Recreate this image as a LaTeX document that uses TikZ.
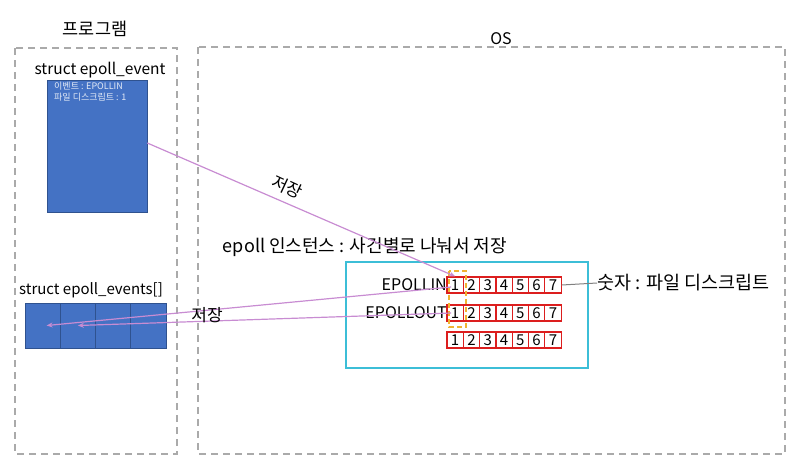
\documentclass[tikz,border=0pt]{standalone}
\usepackage{fontspec}
\setmainfont{Noto Sans CJK KR}
\usetikzlibrary{arrows.meta,calc}
\definecolor{dgray}{RGB}{170,170,170}
\definecolor{oblue}{RGB}{68,114,196}
\definecolor{oblueb}{RGB}{47,82,143}
\definecolor{parrow}{RGB}{200,140,210}
\definecolor{cyanb}{RGB}{60,190,215}
\definecolor{redc}{RGB}{220,30,30}
\definecolor{orangeb}{RGB}{240,180,50}
\tikzset{
  region/.style={draw=dgray, line width=1.3pt, dash pattern=on 7pt off 5pt},
  lbl/.style={font=\fontsize{15.5}{17}\selectfont, inner sep=0pt},
  klbl/.style={font=\fontsize{17}{19}\selectfont, inner sep=0pt},
  rc/.style={draw=redc, line width=1.2pt, minimum width=16.3pt, minimum height=16pt, inner sep=0pt, font=\fontsize{15}{15}\selectfont},
  acell/.style={draw=oblueb, fill=oblue, line width=0.6pt, minimum width=35.25pt, minimum height=45pt, inner sep=0pt},
  parr/.style={draw=parrow, line width=1.2pt, -{Stealth[length=6pt,width=5pt]}},
}
\begin{document}
\begin{tikzpicture}[x=1pt,y=-1pt]
\useasboundingbox (0,0) rectangle (800,472);
% regions
\draw[region] (15,48) rectangle (177,454);
\draw[region] (198,47) rectangle (785,454);
\node[klbl, font=\fontsize{17.5}{19}\selectfont] (tprog) at (95,29) {프로그램};
\node[lbl, font=\fontsize{16}{18}\selectfont, fill=white, inner sep=1pt] (tos) at (501,39) {OS};
% struct epoll_event
\node[lbl] (evlbl) at (100,70) {struct epoll\_event};
\node[draw=oblueb, fill=oblue, line width=0.6pt, minimum width=100pt, minimum height=132pt, inner sep=0pt] (ev) at (97,146) {};
\node[anchor=north west, inner sep=0pt, text=white!85!oblue, font=\fontsize{9}{11}\selectfont, align=left] (evtxt) at (54,82) {이벤트 : EPOLLIN\\파일 디스크립트 : 1};
% struct epoll_events[]
\node[lbl, font=\fontsize{15}{17}\selectfont] (arlbl) at (91,290) {struct epoll\_events[]};
\foreach \i in {1,...,4}{
  \node[acell] (a\i) at ({25+35.25*(\i-0.5)},325.5) {};
}
% epoll instance
\node[klbl, font=\fontsize{18}{20}\selectfont] (inst) at (365,247) {epoll 인스턴스 : 사건별로 나눠서 저장};
\node[draw=cyanb, line width=1.2pt, minimum width=242pt, minimum height=106pt, inner sep=0pt] (box) at (467,315) {};
\foreach \r/\yy in {1/285,2/313,3/340}{
  \foreach \c in {1,...,7}{
    \node[rc] (r\r c\c) at ({447+16.3*(\c-0.5)},\yy) {\c};
  }
}
\node[lbl, font=\fontsize{16}{18}\selectfont, anchor=east] (epin) at (447,285) {EPOLLIN};
\node[lbl, font=\fontsize{16}{18}\selectfont, anchor=east] (epout) at (447,313) {EPOLLOUT};
\draw[draw=orangeb, line width=1.2pt, dash pattern=on 5pt off 3pt] (449,271) rectangle (466,327);
% side label
\node[klbl, font=\fontsize{18.5}{20}\selectfont, anchor=west] (num) at (597,283) {숫자 : 파일 디스크립트};
\draw[draw=gray, line width=1pt] (r1c7.east) -- (num.west);
% arrows
\draw[parr] (ev.east |- 0,143) -- (r1c1.north);
\node[klbl, rotate=-25] (save1) at (287,187) {저장};
\draw[parr] ($(r1c1.center)+(-4,2)$) -- ($(a1.center)+(4,0)$);
\draw[parr] ($(r2c1.center)+(-4,0)$) -- (a2.center);
\node[klbl] (save2) at (207,315) {저장};
\end{tikzpicture}
\end{document}
